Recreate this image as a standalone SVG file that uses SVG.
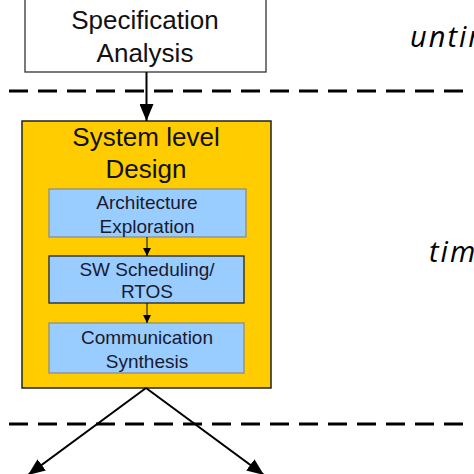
<svg xmlns="http://www.w3.org/2000/svg" width="474" height="474" viewBox="0 0 474 474">
<style>
.big{font-family:"Liberation Sans",Arial,sans-serif;font-size:26px;fill:#111;text-anchor:middle}
.mid{font-family:"Liberation Sans",Arial,sans-serif;font-size:19px;fill:#1a1a2e;text-anchor:middle}
.lvl{font-family:"Open Sans",sans-serif;font-style:italic;font-size:29px;letter-spacing:2px;fill:#000}
.dash{stroke:#000;stroke-width:3;stroke-dasharray:19 10;fill:none}
.blue{fill:#99ccff}
</style>
<defs>
<marker id="ah" viewBox="0 0 10 10" refX="10" refY="5" markerWidth="8" markerHeight="9" markerUnits="userSpaceOnUse" orient="auto">
<path d="M0,0 L10,5 L0,10 Z" fill="#000"/>
</marker>
<marker id="big" viewBox="0 0 17 14" refX="17" refY="7" markerWidth="17" markerHeight="14" markerUnits="userSpaceOnUse" orient="auto">
<path d="M0,0 L17,7 L0,14 Z" fill="#000"/>
</marker>
</defs>
<rect width="474" height="474" fill="#fff"/>
<line class="dash" x1="9" y1="91" x2="466" y2="91"/>
<line class="dash" x1="9" y1="424" x2="466" y2="424"/>
<g id="spec">
<rect x="25" y="-2" width="241" height="74" fill="#fff" stroke="#333" stroke-width="1.3"/>
<text class="big" x="145" y="29">Specification</text>
<text class="big" x="145" y="62">Analysis</text>
</g>
<g id="sysdesign">
<rect x="22" y="121" width="249" height="267" fill="#ffcc00" stroke="#222" stroke-width="1.5"/>
<text class="big" x="146" y="146">System level</text>
<text class="big" x="146" y="178">Design</text>
</g>
<g id="arch">
<rect class="blue" x="49" y="189" width="197" height="48" stroke="#888" stroke-width="1.2"/>
<text class="mid" x="147" y="209">Architecture</text>
<text class="mid" x="147" y="233">Exploration</text>
</g>
<g id="sched">
<rect class="blue" x="49" y="256" width="195" height="47" stroke="#222" stroke-width="1.3"/>
<text class="mid" x="147" y="276">SW Scheduling/</text>
<text class="mid" x="147" y="298">RTOS</text>
</g>
<g id="comm">
<rect class="blue" x="49" y="323" width="195" height="50" stroke="#888" stroke-width="1.2"/>
<text class="mid" x="147" y="344">Communication</text>
<text class="mid" x="147" y="368">Synthesis</text>
</g>
<g id="levels">
<text class="lvl" x="410" y="47">untimed</text>
<text class="lvl" x="429" y="262">timed</text>
</g>
<g id="connectors" stroke="#000" fill="none">
<line x1="146.5" y1="72" x2="146.5" y2="121" stroke-width="2" marker-end="url(#big)"/>
<line x1="147" y1="237" x2="147" y2="256" stroke-width="1" marker-end="url(#ah)"/>
<line x1="147" y1="303" x2="147" y2="323" stroke-width="1" marker-end="url(#ah)"/>
<line x1="146" y1="388" x2="28" y2="475" stroke-width="2" marker-end="url(#big)"/>
<line x1="146" y1="388" x2="264" y2="475" stroke-width="2" marker-end="url(#big)"/>
</g>
</svg>
